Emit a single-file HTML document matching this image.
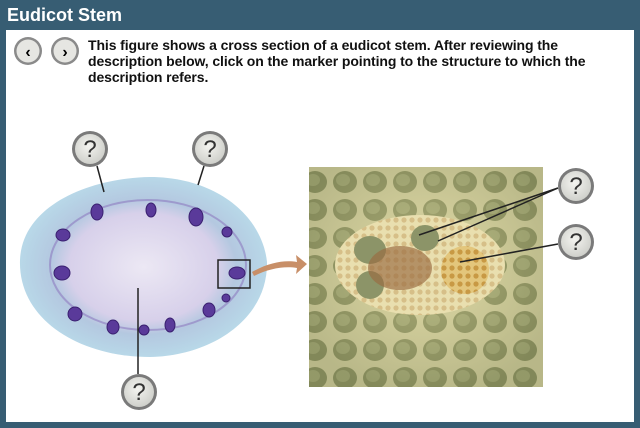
<!DOCTYPE html>
<html><head><meta charset="utf-8"><style>
body{margin:0;width:640px;height:428px;background:#375d73;position:relative;overflow:hidden;font-family:"Liberation Sans",sans-serif}
.t{position:absolute;left:7px;top:5px;color:#fff;font-weight:bold;font-size:18px}
.w{position:absolute;left:6px;top:30px;width:628px;height:392px;background:#fff}
.d{position:absolute;left:88px;top:37px;width:545px;font-weight:bold;font-size:14px;line-height:16px;color:#111;letter-spacing:-0.1px}
</style></head><body>
<div class="t">Eudicot Stem</div>
<div class="w"></div>
<div class="d">This figure shows a cross section of a eudicot stem. After reviewing the description below, click on the marker pointing to the structure to which the description refers.</div>
<svg width="640" height="428" style="position:absolute;left:0;top:0">
<defs>
<radialGradient id="q" cx="45%" cy="40%" r="60%"><stop offset="0" stop-color="#f4f4f0"/><stop offset="1" stop-color="#cfd0cb"/></radialGradient>
<radialGradient id="st" cx="50%" cy="50%" r="50%"><stop offset="0" stop-color="#ece8f4"/><stop offset="0.6" stop-color="#d7d0ea"/><stop offset="0.75" stop-color="#b4c8e0"/><stop offset="1" stop-color="#b8d8e8"/></radialGradient>
<radialGradient id="im" cx="50%" cy="45%" r="60%"><stop offset="0" stop-color="#c9a860"/><stop offset="0.35" stop-color="#b8b480"/><stop offset="1" stop-color="#6d7248"/></radialGradient>
<pattern id="cells" width="30" height="28" patternUnits="userSpaceOnUse">
<rect width="30" height="28" fill="#e0dcaa"/><ellipse cx="15" cy="14" rx="12" ry="11" fill="#8e9462"/><ellipse cx="13" cy="12" rx="7" ry="6" fill="#a8ae7a"/>
</pattern>
<pattern id="small" width="8" height="8" patternUnits="userSpaceOnUse"><rect width="8" height="8" fill="#eee4b8"/><circle cx="4" cy="4" r="2.6" fill="#b88a48"/></pattern>
<g id="m"><circle r="18" fill="#7a7a7a"/><circle r="15" fill="url(#q)"/><text y="8" text-anchor="middle" font-size="24" fill="#333" font-family="Liberation Sans">?</text></g>
</defs>
<g>
<circle cx="28" cy="51" r="14" fill="#8a8a8a"/><circle cx="28" cy="51" r="11.5" fill="#e6e6e2"/><text x="28" y="57" text-anchor="middle" font-size="16" font-weight="bold">‹</text>
<circle cx="65" cy="51" r="14" fill="#8a8a8a"/><circle cx="65" cy="51" r="11.5" fill="#e6e6e2"/><text x="65" y="57" text-anchor="middle" font-size="16" font-weight="bold">›</text>
</g>
<path d="M20,260 C22,205 90,178 150,177 C215,177 262,215 267,262 C268,320 210,356 150,357 C80,357 18,320 20,260Z" fill="url(#st)"/>
<ellipse cx="148" cy="265" rx="98" ry="65" fill="none" stroke="#8e7cc0" stroke-width="2" opacity=".6"/>
<g fill="#5a3a9a" stroke="#3a2070" stroke-width="1">
<ellipse cx="97" cy="212" rx="6" ry="8"/><ellipse cx="151" cy="210" rx="5" ry="7"/><ellipse cx="196" cy="217" rx="7" ry="9"/><ellipse cx="227" cy="232" rx="5" ry="5"/>
<ellipse cx="63" cy="235" rx="7" ry="6"/><ellipse cx="62" cy="273" rx="8" ry="7"/><ellipse cx="237" cy="273" rx="8" ry="6"/><ellipse cx="226" cy="298" rx="4" ry="4"/>
<ellipse cx="209" cy="310" rx="6" ry="7"/><ellipse cx="170" cy="325" rx="5" ry="7"/><ellipse cx="144" cy="330" rx="5" ry="5"/><ellipse cx="113" cy="327" rx="6" ry="7"/><ellipse cx="75" cy="314" rx="7" ry="7"/>
</g>
<rect x="218" y="260" width="32" height="28" fill="none" stroke="#222" stroke-width="1.5"/>
<path d="M252,272 C270,262 285,260 297,262 L296,255 L307,264 L296,274 L297,268 C285,266 270,268 254,276Z" fill="#c88f68"/>
<rect x="309" y="167" width="234" height="220" fill="url(#cells)"/>
<rect x="309" y="167" width="234" height="220" fill="url(#im)" opacity=".35"/>
<ellipse cx="420" cy="265" rx="85" ry="50" fill="#e6dcaa"/>
<ellipse cx="420" cy="265" rx="85" ry="50" fill="url(#small)" opacity=".35"/>
<ellipse cx="370" cy="250" rx="16" ry="14" fill="#8c9468"/><ellipse cx="425" cy="238" rx="14" ry="13" fill="#8c9468"/><ellipse cx="370" cy="285" rx="14" ry="14" fill="#8c9468"/>
<ellipse cx="400" cy="268" rx="32" ry="22" fill="#9a6a40" opacity=".65"/>
<ellipse cx="465" cy="270" rx="24" ry="24" fill="url(#small)"/>
<ellipse cx="465" cy="270" rx="24" ry="24" fill="#d8a840" opacity=".5"/>
<g stroke="#222" stroke-width="1.5"><line x1="419" y1="235" x2="558" y2="188"/><line x1="438" y1="241" x2="558" y2="188"/><line x1="460" y1="262" x2="558" y2="244"/>
<line x1="104" y1="192" x2="97" y2="166"/><line x1="198" y1="185" x2="204" y2="166"/><line x1="138" y1="288" x2="138" y2="374"/></g>
<use href="#m" x="90" y="149"/><use href="#m" x="210" y="149"/><use href="#m" x="139" y="392"/><use href="#m" x="576" y="186"/><use href="#m" x="576" y="242"/>
</svg>
</body></html>
